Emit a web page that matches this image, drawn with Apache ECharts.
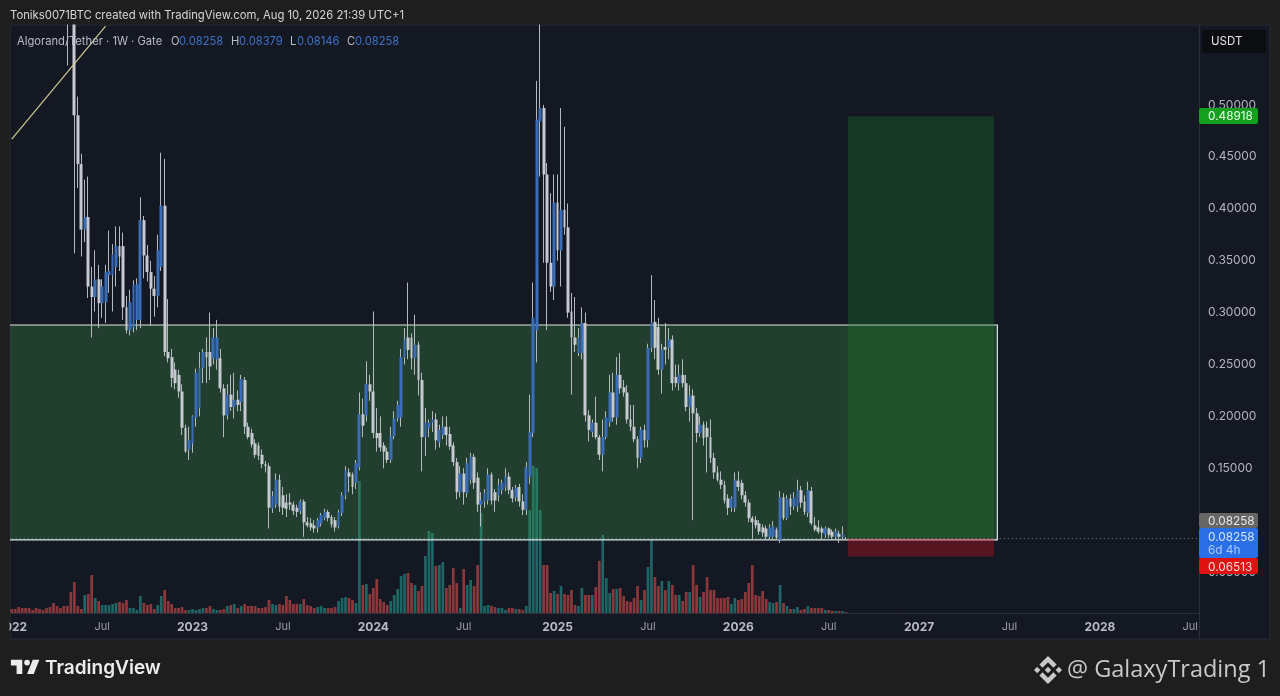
<!DOCTYPE html>
<html><head><meta charset="utf-8">
<style>html,body{margin:0;padding:0;background:#1e1e1e}#c{width:1280px;height:696px}</style>
<script src="https://cdn.jsdelivr.net/npm/echarts@6/dist/echarts.min.js"></script>
</head><body><div id="c"></div>
<script>
// Weekly ALGO/USDT candles; prices in thousandths of a USDT.
const firstCandleWeek = 16;
const opensMilli = [
650,660,600,490,443,380,392,325,315,332,
309,310,336,336,344,364,364,305,283,286,
293,293,389,355,339,323,316,344,403,262,
257,245,240,224,189,168,174,199,208,247,
262,262,256,255,256,227,201,221,209,216,
214,235,190,184,174,172,163,154,152,111,
115,139,124,117,117,115,112,109,118,98,
97,95,93,97,102,108,103,100,94,107,
124,146,144,136,151,202,201,231,224,184,
184,172,166,158,181,198,199,257,276,276,
256,269,235,180,189,194,197,175,182,190,
183,172,156,127,145,126,139,161,141,115,
118,119,144,127,124,129,132,142,129,122,
132,118,110,142,184,283,484,497,433,348,
325,406,360,399,382,301,276,261,261,290,
201,185,194,180,163,180,194,223,199,240,
228,223,197,190,178,160,187,177,266,291,
286,245,267,266,274,238,232,240,232,209,
220,203,184,192,189,180,160,146,139,134,
121,112,112,138,136,124,117,102,100,97,
93,92,84,84,91,81,122,102,121,113,
113,129,118,107,128,95,93,92,86,92,
89,84,87,84,82.58];
const closesMilli = [
620,640,490,443,380,392,325,315,332,309,
325,339,340,356,364,354,305,283,310,327,
327,389,355,339,323,316,360,403,262,256,
237,232,224,189,166,177,200,242,247,262,
257,248,276,276,227,201,221,209,216,211,
236,190,180,173,163,162,154,152,112,123,
139,113,112,111,115,109,108,118,98,95,
93,92,100,105,108,102,96,93,108,124,
148,142,132,155,202,191,231,224,184,179,
170,166,158,181,198,211,257,274,264,256,
269,235,180,194,194,197,177,187,190,182,
171,156,127,145,127,155,161,136,115,119,
126,144,119,119,134,136,142,129,121,131,
118,110,151,185,295,486,497,433,348,325,
406,360,399,382,300,276,269,276,290,201,
187,194,180,163,180,199,223,199,240,227,
223,197,190,178,160,187,177,266,291,266,
245,264,264,274,232,232,240,232,209,220,
203,184,192,179,180,160,146,139,134,119,
112,121,139,132,124,117,102,98,95,89,
88,84,93,94,83,122,102,121,113,122,
129,117,108,129,97,91,89,88,92,86,
84,89,84,86,82.58];
const highsMilli = [
700,700,650,508,453,428,431,344,360,346,
332,346,379,366,383,383,377,316,322,331,
333,411,393,365,350,335,375,454,448,313,
265,252,245,231,192,190,201,246,262,265,
276,300,285,293,265,231,231,240,242,225,
240,238,194,188,178,175,168,157,155,128,
145,144,132,125,126,118,115,120,120,103,
102,100,102,107,111,110,105,103,110,127,
152,150,146,158,223,217,253,240,301,208,
200,175,170,190,205,215,265,285,329,280,
298,272,242,208,197,205,203,192,200,200,
190,175,160,152,150,160,165,164,146,127,
130,150,146,130,140,139,150,146,132,134,
135,125,156,221,329,523,600,500,444,415,
433,433,497,479,405,319,315,285,305,300,
206,197,219,182,197,205,240,242,257,261,
235,230,211,211,181,190,192,270,336,312,
295,270,290,285,278,250,250,255,240,230,
226,208,200,195,195,197,165,152,147,138,
125,123,146,147,139,128,120,104,104,100,
96,95,96,99,93,128,126,124,125,127,
139,133,124,137,132,103,100,94,94,93,
91,92,90,94,83.79];
const lowsMilli = [
538,600,357,420,354,368,314,276,301,285,
295,290,319,301,325,340,293,280,278,281,
283,285,333,330,287,296,305,340,258,252,
228,226,218,182,165,158,165,190,200,232,
232,235,250,245,223,180,197,205,198,205,
205,183,178,170,160,158,150,146,92,107,
112,108,105,103,110,105,103,106,84,93,
90,88,88,94,100,99,93,89,92,104,
120,127,125,130,148,180,195,215,179,166,
166,150,155,155,178,195,190,250,255,245,
240,220,147,162,180,185,168,170,178,172,
168,152,120,122,115,122,135,130,108,94,
112,115,115,108,118,125,128,125,117,118,
113,105,105,135,180,252,431,348,283,320,
312,350,325,375,295,221,262,258,255,195,
176,180,178,158,147,178,190,195,192,222,
219,193,186,175,150,155,170,170,262,255,
240,222,250,255,225,228,225,228,205,195,
100,175,180,172,146,155,140,137,130,116,
105,108,108,128,120,113,98,81,92,86,
84,81,81,81,81,78,100,100,105,110,
108,112,105,103,95,89,87,81,83,83,
82,81,78,81,81.46];
// Volume per week, starting from the first week of the axis (relative units).
const volumes = [
4,4,6,5,5,5,3,5,4,3, 5,6,10,7,5,7,7,21,31,7, 4,18,19,38,15,12,8,8,8,9,
10,11,10,13,5,5,3,17,10,8, 9,4,8,17,23,12,9,5,5,6, 3,3,4,3,4,5,5,7,4,3,
3,4,7,8,9,5,7,9,7,7, 7,5,5,6,13,9,8,9,8,17, 13,9,9,9,14,8,7,5,6,7,
5,5,5,6,12,15,16,15,13,10, 132,28,29,19,25,34,14,11,8,12, 18,24,37,39,40,30,28,22,27,57,
82,80,47,48,51,25,28,45,30,5, 44,28,33,27,48,100,7,8,7,6, 5,5,3,5,5,4,4,3,7,103,
147,145,103,48,48,20,22,19,27,19, 18,23,8,7,25,18,18,18,26,52, 78,35,20,24,24,25,17,12,11,15,
27,13,23,46,73,36,27,32,23,32, 28,18,18,12,21,21,48,28,16,21, 36,23,23,15,15,15,16,9,15,13,
14,21,30,48,18,17,22,14,11,10, 11,28,10,7,4,4,6,3,4,7, 5,5,5,5,3,3,2,2,2,2, 1];
const weekCount = 342;
const firstWeekDate = '2022-01-03';
const tickWeeks = [0,26,52,78,104,130,157,183,209,235,261,287,313,339];
const tickLabels = ['2022','Jul','2023','Jul','2024','Jul','2025','Jul','2026','Jul','2027','Jul','2028','Jul'];
const priceTicks = [0.05,0.10,0.15,0.20,0.25,0.30,0.35,0.40,0.45,0.50];
const priceMin = 0.0106, priceMax = 0.577;
const volumeAxisMax = 588;
// Drawn zones: [first week, last week, upper price, lower price]
const rangeBox = [0,283,0.288,0.081];
const targetZone = [241,282,0.48918,0.08258];
const stopZone = [241,282,0.08258,0.06513];
const lastPrice = 0.08258;
const trendLine = [[0,0.467],[27,0.576]];

const categories = Array.from({length:weekCount},(_,i)=>{
  const d=new Date(firstWeekDate+'T00:00:00Z'); d.setUTCDate(d.getUTCDate()+7*i);
  return d.toISOString().slice(0,10);
});
const empty=['-','-','-','-'];
const wickData=[], bodyData=[];
categories.forEach((c,i)=>{
  const k=i-firstCandleWeek;
  if(k<0||k>=opensMilli.length){wickData.push(empty);bodyData.push(empty);return;}
  const o=opensMilli[k]/1000,cl=closesMilli[k]/1000,h=highsMilli[k]/1000,l=lowsMilli[k]/1000;
  wickData.push([o,cl,l,h]);
  bodyData.push([o,cl,Math.min(o,cl),Math.max(o,cl)]);
});
const UP='#3a6db8',DOWN='#c6cad0',WICK='#b4b8c0';
const volumeData=volumes.map((v,i)=>{
  const k=i-firstCandleWeek;
  const up=k>=0&&closesMilli[k]>opensMilli[k];
  return {value:v,itemStyle:{color:up?'rgba(38,166,154,0.55)':'rgba(239,83,80,0.55)'}};
});
const zoneStyles=[
  {fill:'rgba(76,175,80,0.25)',stroke:'#dfe5e2',lineWidth:1.2},
  {fill:'rgba(30,130,40,0.3)'},
  {fill:'rgba(200,20,30,0.37)'}
];
const FONT='Inter';
const txt=(x,y,s,fill,size,extra)=>({type:'text',z:120,silent:true,x,y,style:Object.assign({text:s,fill,font:`${size}px ${FONT}`,textVerticalAlign:'middle'},extra||{})});
const tag=(x,y,w,h,fill,z)=>({type:'rect',z:z||110,silent:true,shape:{x,y,width:w,height:h,r:2},style:{fill}});
const poly=(x,y,s,points,fill)=>({type:'polygon',z:120,silent:true,x,y,scaleX:s,scaleY:s,shape:{points},style:{fill}});
const frame='#1e1e1e', pane='#141823', axisCol='#2a2e39', legendBlue='#3d72c9', legendGrey='#b8bcc4';

const option={
  animation:false,
  backgroundColor:frame,
  textStyle:{fontFamily:FONT},
  grid:{left:10,top:25,width:1189,height:588,show:false,outerBoundsMode:'none'},
  xAxis:{type:'category',data:categories,boundaryGap:true,
    axisLine:{lineStyle:{color:axisCol}},axisTick:{show:false},splitLine:{show:false},
    axisLabel:{hideOverlap:false,margin:8,color:'#9a9ea8',fontSize:11,
      interval:(i)=>tickWeeks.includes(i),
      formatter:(v,i)=>{const t=tickLabels[tickWeeks.indexOf(i)]; return t==='Jul'?t:`{y|${t}}`;},
      rich:{y:{color:'#b8bcc4',fontWeight:'bold',fontSize:12,fontFamily:FONT}}}},
  yAxis:[
    {type:'value',position:'right',min:priceMin,max:priceMax,
      axisLine:{show:true,lineStyle:{color:axisCol}},axisTick:{show:false},splitLine:{show:false},
      axisLabel:{customValues:priceTicks,color:'#b2b5be',fontSize:12,margin:9,padding:[3,0,0,0],formatter:v=>v.toFixed(5)}},
    {type:'value',position:'left',min:0,max:volumeAxisMax,show:false,splitLine:{show:false}}
  ],
  series:[
    {name:'Volume',type:'bar',yAxisIndex:1,data:volumeData,barWidth:2.7,z:1,silent:true},
    {name:'Zones',type:'custom',z:2,silent:true,clip:true,
      encode:{x:[0,1],y:[2,3]},
      data:[rangeBox,targetZone,stopZone],
      renderItem:(p,api)=>{
        const a=api.coord([api.value(0),api.value(2)]),b=api.coord([api.value(1),api.value(3)]);
        const bw=api.size([1,0])[0];
        const over=p.dataIndex===0?4:0; // the range box runs off the left edge of the pane
        return {type:'rect',shape:{x:a[0]-bw/2-over,y:a[1],width:b[0]-a[0]+bw+over,height:b[1]-a[1]},style:zoneStyles[p.dataIndex]};
      }},
    {name:'Wicks',type:'candlestick',z:3,silent:true,clip:true,barWidth:1,data:wickData,
      itemStyle:{color:WICK,color0:WICK,borderColor:WICK,borderColor0:WICK,borderWidth:1},
      markLine:{silent:true,symbol:'none',animation:false,label:{show:false},
        data:[
          [{xAxis:trendLine[0][0],yAxis:trendLine[0][1],lineStyle:{color:'#cfc98e',width:1.2,type:'solid'}},
           {xAxis:trendLine[1][0],yAxis:trendLine[1][1]}],
          [{xAxis:0,yAxis:lastPrice,lineStyle:{color:'rgba(110,150,215,0.8)',width:1,type:[1,3]}},
           {xAxis:weekCount-1,yAxis:lastPrice}]
        ]}},
    {name:'Bodies',type:'candlestick',z:4,silent:true,clip:true,barWidth:3.3,data:bodyData,
      itemStyle:{color:UP,color0:DOWN,borderColor:UP,borderColor0:DOWN,borderWidth:0}}
  ],
  graphic:{elements:[
    {type:'rect',z:-10,silent:true,shape:{x:10,y:25,width:1260,height:614},style:{fill:pane,stroke:'#262a34',lineWidth:1}},
    {type:'rect',z:100,silent:true,shape:{x:0,y:0,width:1280,height:24.5},style:{fill:frame}},
    {type:'rect',z:100,silent:true,shape:{x:0,y:0,width:9.5,height:696},style:{fill:frame}},
    {type:'line',z:100,silent:true,shape:{x1:1199.5,y1:613,x2:1199.5,y2:639},style:{stroke:axisCol}},
    txt(10,16,'Toniks0071BTC created with TradingView.com, Aug 10, 2026 21:39 UTC+1','#d6d6d6',11.3),
    txt(17,42,'Algorand/Tether · 1W · Gate',legendGrey,11.2),
    txt(171,42,'O',legendGrey,11.2), txt(179,42,'0.08258',legendBlue,11.2),
    txt(231,42,'H',legendGrey,11.2), txt(239,42,'0.08379',legendBlue,11.2),
    txt(290,42,'L',legendGrey,11.2), txt(297,42,'0.08146',legendBlue,11.2),
    txt(347,42,'C',legendGrey,11.2), txt(355,42,'0.08258',legendBlue,11.2),
    tag(1202,30,64,23,'#0c0d11'), txt(1211,42,'USDT','#e4e4e4',11.5),
    tag(1199,108,59,16,'#14a01e'), txt(1208,116,'0.48918','#e9ffe9',11.8),
    tag(1199,513,59,15,'#666666'), txt(1208,521,'0.08258','#e6e6e6',11.8),
    tag(1199,528,59,30,'#2a6fe6'), txt(1208,537,'0.08258','#d5e4ff',11.8), txt(1208,550,'6d 4h','#a9c8ff',11.8),
    tag(1199,558,59,16,'#e01212'), txt(1208,567,'0.06513','#ffdada',11.8),
    poly(9,654,0.95,[[14,6],[2,6],[2,12],[8,12],[8,21],[14,21]],'#ececec'),
    poly(9,654,0.95,[[26,21],[19,21],[25,6],[32,6]],'#ececec'),
    {type:'circle',z:120,silent:true,x:9,y:654,scaleX:0.95,scaleY:0.95,shape:{cx:19,cy:9,r:3},style:{fill:'#ececec'}},
    txt(45,668,'TradingView','#ececec',19,{font:`600 19px ${FONT}`}),
    poly(1034,656,0.221,[[38.73,53.2],[63.3,28.63],[87.88,53.21],[102.18,38.91],[63.3,0],[24.43,38.9]],'#c9c9c9'),
    poly(1034,656,0.221,[[0,63.31],[14.3,49.01],[28.6,63.31],[14.3,77.61]],'#c9c9c9'),
    poly(1034,656,0.221,[[38.73,73.41],[63.3,97.98],[87.88,73.41],[102.18,87.7],[63.3,126.61],[24.43,87.73]],'#c9c9c9'),
    poly(1034,656,0.221,[[98,63.31],[112.3,49.01],[126.61,63.31],[112.31,77.61]],'#c9c9c9'),
    poly(1034,656,0.221,[[77.83,63.3],[63.3,48.76],[48.77,63.29],[63.3,77.83]],'#c9c9c9'),
    txt(1067,670,'@ GalaxyTrading 1','#c9c9c9',23.5,{font:'23.5px "Open Sans"'})
  ]}
};
echarts.init(document.getElementById('c'),null,{renderer:'canvas',width:1280,height:696}).setOption(option);
</script></body></html>
